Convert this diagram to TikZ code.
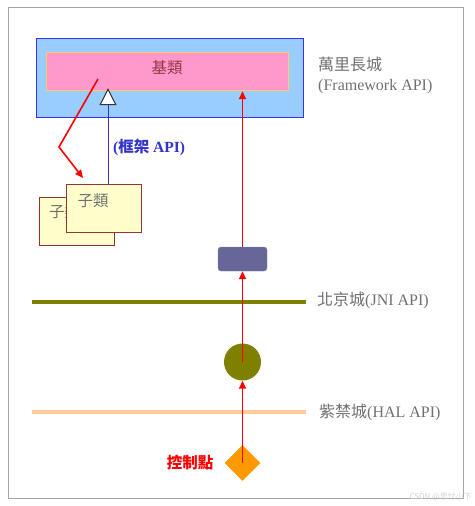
\documentclass[tikz,border=0pt]{standalone}
\usepackage{fontspec}
\setmainfont{Liberation Serif}
\newfontfamily\cjk{Noto Sans CJK TC}
\usetikzlibrary{arrows.meta,shapes.geometric,calc}
\definecolor{frameblue}{HTML}{99CCFF}
\definecolor{frameedge}{HTML}{3333FF}
\definecolor{basepink}{HTML}{FF99CC}
\definecolor{baseedge}{HTML}{FFCC66}
\definecolor{basetext}{HTML}{993344}
\definecolor{subfill}{HTML}{FFFFCC}
\definecolor{subedge}{HTML}{993333}
\definecolor{labgray}{HTML}{707070}
\definecolor{olivec}{HTML}{808000}
\definecolor{peach}{HTML}{FFCC99}
\definecolor{purplec}{HTML}{666699}
\definecolor{orangec}{HTML}{FF9900}
\definecolor{apiblue}{HTML}{3333CC}
\tikzset{
  redarrow/.style={draw=red, line width=1.6pt, -{Triangle[length=8pt,width=7pt]}},
  subbox/.style={draw=subedge, fill=subfill, line width=1pt, minimum width=75pt, minimum height=48pt, inner sep=0pt, anchor=north west},
  lab/.style={text=labgray, font=\fontsize{16}{20}\selectfont, anchor=west, inner sep=0pt},
  layerline/.style={line width=4pt},
}
\begin{document}
\begin{tikzpicture}[x=1pt,y=-1pt]
\useasboundingbox (0,0) rectangle (474,506);
\node[draw=gray!70, line width=1pt, minimum width=455pt, minimum height=491pt, inner sep=0pt, anchor=north west] (outer) at (8,7) {};
% framework box
\node[draw=frameedge, fill=frameblue, line width=1pt, minimum width=267pt, minimum height=79pt, inner sep=0pt, anchor=north west] (fw) at (36,38) {};
\node[draw=baseedge, fill=basepink, line width=1.2pt, minimum width=242pt, minimum height=38pt, inner sep=0pt, anchor=north west] (base) at (46,52) {};
\node[text=basetext, font=\cjk\fontsize{15.5}{17}\selectfont, inner sep=0pt] (basetxt) at (167,68) {基類};
\node[lab, align=left] (fwlab) at (318,75) {{\cjk 萬里長城}\\(Framework API)};
% subclasses
\node[subbox] (subback) at (39,197) {};
\node[text=labgray, font=\cjk\fontsize{15.5}{17}\selectfont, inner sep=0pt, anchor=west] (subbacktxt) at (49,212) {子類};
\node[subbox] (subfront) at (66,184) {};
\node[text=labgray, font=\cjk\fontsize{15.5}{17}\selectfont, inner sep=0pt] (subfronttxt) at (93,201) {子類};
% inheritance line
\coordinate (inhS) at ([xshift=42pt]subfront.north west);
\draw[draw=apiblue, line width=1pt, -{Triangle[open, length=17pt, width=17pt, line width=1pt, fill=white, color=black!80]}, shorten >=-3pt] (inhS) -- (inhS |- base.south);
\node[text=apiblue, font=\bfseries\fontsize{15.5}{17}\selectfont, anchor=west, inner sep=0pt] (apilab) at (113,148) {({\cjk\bfseries 框架} API)};
% red callback arrow
\coordinate (cbA) at (98,79);
\coordinate (cbB) at (59,147);
\coordinate (cbC) at (83,178);
\draw[redarrow] (cbA) -- (cbB) -- (cbC);
% layers
\coordinate (jniL) at (32,302);
\coordinate (jniR) at (306,302);
\draw[layerline, draw=olivec] (jniL) -- (jniR);
\node[lab] (jnilab) at (317,300) {{\cjk 北京城}(JNI API)};
\coordinate (halL) at (32,412);
\coordinate (halR) at (306,412);
\draw[layerline, draw=peach] (halL) -- (halR);
\node[lab] (hallab) at (319,412) {{\cjk 紫禁城}(HAL API)};
% control chain
\node[draw=purplec!80, fill=purplec, rounded corners=3pt, minimum width=49pt, minimum height=24pt, inner sep=0pt] (jni) at (242.5,259) {};
\node[circle, fill=olivec, minimum size=37pt, inner sep=0pt] (native) at (242.5,362) {};
\node[diamond, fill=orangec, minimum width=36pt, minimum height=36pt, inner sep=0pt] (ctrl) at (242.5,463) {};
\node[text=red, font=\cjk\bfseries\fontsize{15.5}{17}\selectfont, inner sep=0pt] (ctrllab) at (190,463) {控制點};
\draw[redarrow] (jni.north) -- (jni.north |- base.south);
\draw[redarrow] (native.center) -- (jni.south);
\draw[redarrow] (ctrl.center) -- (native.south);
\node[text=gray!35, font=\cjk\fontsize{8}{9}\selectfont, anchor=east, inner sep=0pt] (wm) at (472,497) {CSDN @思忖小下};
\end{tikzpicture}
\end{document}
